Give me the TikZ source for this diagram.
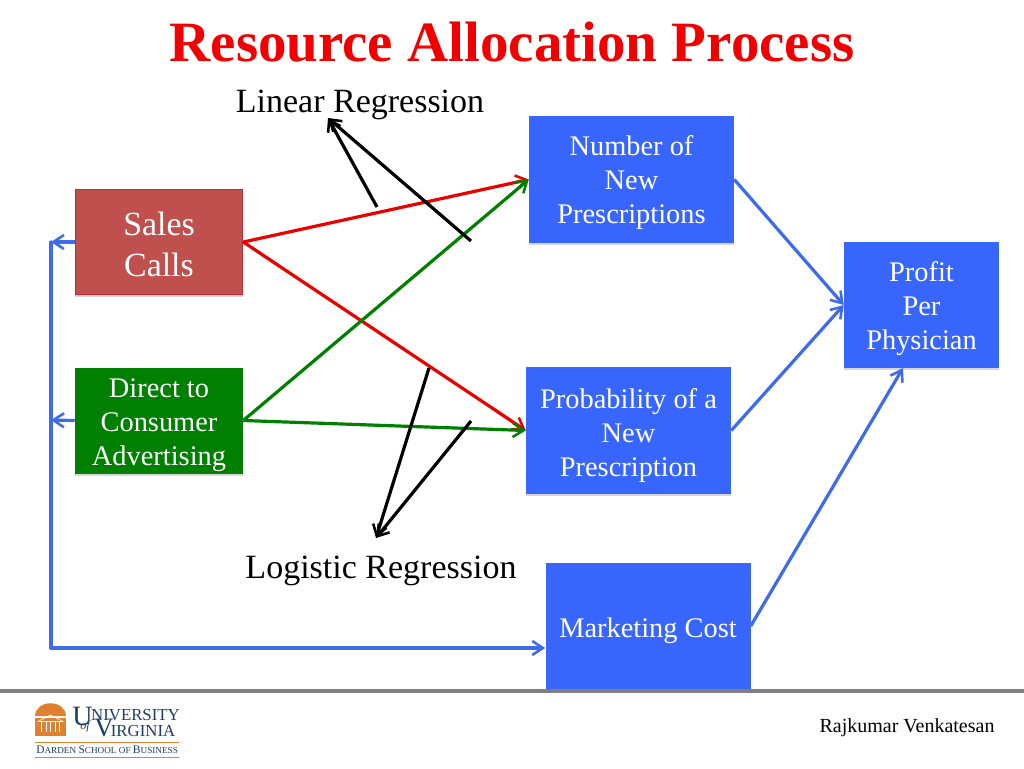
\documentclass[tikz,border=0pt]{standalone}
\usepackage{fontspec}
\setmainfont{Liberation Serif}
\usetikzlibrary{arrows.meta,shadows}
\definecolor{boxblue}{RGB}{56,102,252}
\definecolor{linkblue}{RGB}{62,106,235}
\definecolor{salesred}{RGB}{192,80,77}
\definecolor{salesedge}{RGB}{200,40,50}
\definecolor{dtcgreen}{RGB}{0,128,0}
\definecolor{uvaorange}{RGB}{222,130,50}
\definecolor{uvanavy}{RGB}{30,60,100}
\newcommand\tstrut{\vrule height 21pt width 0pt\relax}
\newcommand\upstrut{\vrule height 19pt width 0pt\relax}
\newcommand\bigstrut{\vrule height 21.5pt width 0pt\relax}
\tikzset{
  px/.style={x=0.75pt,y=-0.75pt},
  softshadow/.style={drop shadow={shadow xshift=0pt,shadow yshift=-1.8pt,fill=black,opacity=0.16}},
  flowbox/.style={rectangle,inner sep=0pt,align=center,text=white,font=\fontsize{21.3}{25.5}\selectfont,softshadow},
  bluebox/.style={flowbox,fill=boxblue},
  link/.style={line width=2.4pt,-{Straight Barb[length=8pt,width=10.5pt,line width=1.9pt]}},
  plainlink/.style={line width=2.4pt},
  bluelink/.style={link,draw=linkblue},
  redlink/.style={link,draw=red!92!black},
  greenlink/.style={link,draw=dtcgreen},
  blacklink/.style={link,draw=black},
  caption/.style={font=\fontsize{25.5}{30}\selectfont,inner sep=0pt},
  logotext/.style={inner sep=0pt,text=uvanavy},
}
\begin{document}
\begin{tikzpicture}[px]
\useasboundingbox (0,0) rectangle (1024,768);
\fill[white] (0,0) rectangle (1024,768);
% title
\node[inner sep=0pt,text=red!95!black,font=\fontsize{42.75}{48}\selectfont\bfseries] (title) at (512,42) {Resource Allocation Process};
% boxes
\node[flowbox,fill=salesred,draw=salesedge,line width=0.8pt,minimum width=167.5pt*0.75,minimum height=105pt*0.75,font=\fontsize{25.4}{30.5}\selectfont] (sales) at (159,242) {\bigstrut Sales\\Calls};
\node[flowbox,fill=dtcgreen,minimum width=168pt*0.75,minimum height=106pt*0.75] (dtc) at (159,420.5) {\tstrut Direct to\\Consumer\\Advertising};
\node[bluebox,minimum width=205pt*0.75,minimum height=127pt*0.75] (rx) at (631.5,179.5) {\upstrut Number of\\New\\Prescriptions};
\node[bluebox,minimum width=205pt*0.75,minimum height=127pt*0.75] (prob) at (628.5,430.5) {\vrule height 22pt width 0pt\relax Probability of a\\New\\Prescription};
\node[bluebox,minimum width=205pt*0.75,minimum height=127pt*0.75] (cost) at (648,626) {\vrule height 22pt width 0pt\relax Marketing Cost};
\node[bluebox,minimum width=155pt*0.75,minimum height=126pt*0.75] (profit) at (921.5,305) {\tstrut Profit\\Per\\Physician};
% captions
\node[caption] (linear) at (360,105) {Linear Regression};
\node[caption] (logistic) at (381,571) {Logistic Regression};
% anchors
\coordinate (busTop) at (51,242);
\coordinate (busDtc) at (51,420);
\coordinate (busBot) at (51,648);
\coordinate (linA) at (377,207);
\coordinate (linB) at (471,241);
\coordinate (linTip) at (328,118);
\coordinate (logA) at (429,368);
\coordinate (logB) at (471,421);
\coordinate (logTip) at (376,538);
\coordinate (profitIn) at (903,368);
% feedback
\draw[plainlink,draw=linkblue,line cap=round] (busTop) -- (busBot);
\draw[bluelink] (sales.west) -- (busTop);
\draw[bluelink] (dtc.west) -- (busDtc);
\draw[bluelink,line cap=round] (busBot) -- (cost.west |- busBot);
% outcome links
\draw[bluelink] (rx.east) -- (profit.west);
\draw[bluelink] (prob.east) -- (profit.west);
\draw[bluelink] (cost.east) -- (profitIn);
% effect links
\draw[redlink] (sales.east) -- (rx.west);
\draw[redlink] (sales.east) -- (prob.west);
\draw[greenlink] (dtc.east) -- (rx.west);
\draw[greenlink] (dtc.east) -- (prob.west);
% regressions
\draw[blacklink] (linA) -- (linTip);
\draw[blacklink] (linB) -- (linTip);
\draw[blacklink] (logA) -- (logTip);
\draw[blacklink] (logB) -- (logTip);
% footer
\coordinate (ruleL) at (0,691);
\coordinate (ruleR) at (1024,691);
\draw[line width=2.4pt,draw=black!50] (ruleL) -- (ruleR);
\node[inner sep=0pt,font=\fontsize{15}{18}\selectfont] (author) at (907,727.5) {Rajkumar Venkatesan};
% logo
\fill[uvaorange] (35,716) .. controls (36,699) and (65,699) .. (66,716) -- cycle;
\fill[uvaorange] (35,717.5) rectangle (66,736);
\foreach \lx in {41,45.5,50,54.5,59}{\fill[white] (\lx,722) rectangle +(1,10);}
\draw[white,line width=0.5pt] (38,721.5) -- (50.5,715) -- (63,721.5) -- cycle;
\node[logotext,anchor=base west] (uva1) at (72,720) {\raisebox{-4pt}{\fontsize{21}{21}\selectfont U}\kern-1pt\fontsize{12.6}{13}\selectfont NIVERSITY};
\node[logotext,anchor=base west] (uva2) at (94,736) {\fontsize{20}{20}\selectfont V\kern-2pt\fontsize{12.6}{13}\selectfont IRGINIA};
\node[logotext,font=\fontsize{9}{9}\itshape\selectfont] (uvaof) at (85,726.5) {of};
\draw[uvaorange,line width=0.5pt] (35,742) -- (179,742);
\draw[uvaorange,line width=0.5pt] (35,757) -- (179,757);
\node[logotext,anchor=base west] (darden) at (36,753) {\fontsize{8.6}{9}\selectfont D\fontsize{6.9}{9}\selectfont ARDEN \fontsize{8.6}{9}\selectfont S\fontsize{6.9}{9}\selectfont CHOOL OF \fontsize{8.6}{9}\selectfont B\fontsize{6.9}{9}\selectfont USINESS};
\end{tikzpicture}
\end{document}
